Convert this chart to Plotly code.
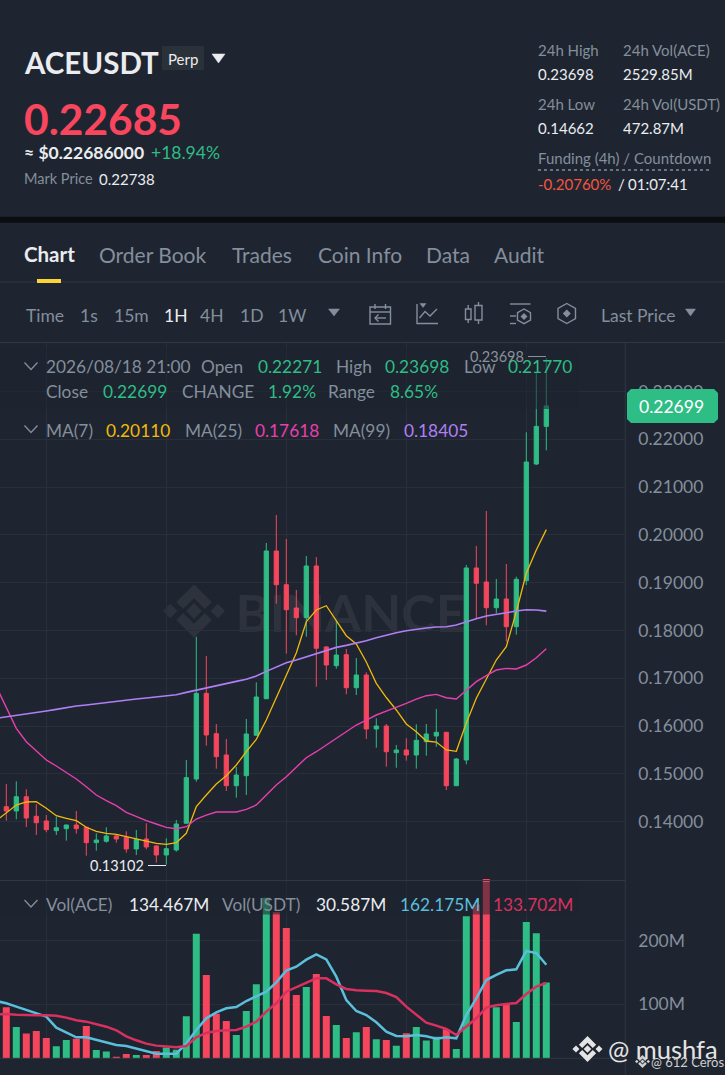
import plotly.graph_objects as go

W, H = 725, 1075

BG = "#1E2530"
GRID = "#292F39"
LINE = "#313743"
GRAY = "#848E9C"
WHITE = "#EAECEF"
GREEN = "#2EBD85"
RED = "#F6465D"
FONT = "Lato"

# one entry per hourly candle, left to right
opens = [.14314, .14224, .14523, .14113, .14015, .13812, .13854, .13931, .13883, .13561, .1359,
         .13701, .13674, .13429, .13638, .13492, .13303, .13408, .13967, .14893, .16686, .15841,
         .15395, .14753, .14962, .15808, .16573, .19663, .18958, .18471, .18268, .1935, .17655,
         .17264, .17494, .16803, .17069, .15939, .16002, .15444, .155, .15395, .15674, .15793,
         .1587, .14753, .15291, .19308, .19015, .18477, .18659, .1808, .19042, .21483, .22271]
highs = [.14789, .14845, .14678, .14364, .1414, .14105, .13937, .14224, .13895, .13757, .13883,
         .13722, .13799, .13826, .13967, .13513, .13653, .14036, .15291, .1787, .17467, .16044,
         .1573, .15144, .16149, .16916, .19831, .20416, .19914, .18847, .19559, .19538, .17676,
         .1822, .17613, .17425, .17126, .16163, .16044, .15605, .15745, .16038, .16044, .16358,
         .15877, .15333, .1937, .19768, .205, .19078, .19391, .19126, .22147, .23381, .23698]
lows = [.14021, .1405, .13889, .13722, .13778, .13722, .13603, .13749, .13289, .13393, .13561,
        .13561, .13351, .13303, .13423, .13142, .13102, .13372, .13967, .14837, .1559, .15109,
        .14642, .14502, .14559, .15808, .16573, .18561, .17515, .179, .1787, .16824, .16965,
        .17201, .16665, .16651, .1573, .15548, .15151, .1513, .15276, .15109, .15381, .15569,
        .14662, .14747, .15201, .18255, .18109, .1836, .17766, .17912, .18952, .21462, .2177]
closes = [.14224, .14523, .14077, .13979, .13833, .13874, .13931, .13854, .13561, .13617, .13701,
          .13638, .13429, .13632, .13471, .13303, .13435, .13952, .14921, .16686, .15814, .1536,
          .14753, .14977, .15835, .16609, .19663, .18958, .18435, .18268, .1935, .17628, .17278,
          .17487, .16803, .17069, .15939, .16002, .15464, .155, .15395, .15703, .15835, .1587,
          .14753, .15312, .19308, .18988, .18477, .18659, .1808, .19071, .21525, .22271, .22699]
volumes = [95.3, 64.5, 54, 58.1, 47.1, 34, 43.9, 46, 66, 28.3, 25.7, 17.8, 22, 20.4, 20.4, 26.7,
           32, 28.8, 81.2, 210.7, 146.1, 85.3, 73.8, 51.8, 89.5, 131.5, 267.5, 244.5, 220, 114.7,
           127.3, 147.6, 81.7, 67.5, 47.1, 56, 64.5, 45, 44, 35, 54.5, 64.5, 43, 49.2, 60.7, 29.8,
           238.2, 257, 300, 95.3, 101.6, 72.3, 229.5, 211.5, 134.467]

# the averages also have a value for the candle just off the left edge
ma7 = [.14021, .14176, .14349, .14412, .14418, .1428, .14126, .14071, .14021, .13883, .13799,
       .13757, .13736, .13686, .13638, .1359, .13548, .13527, .13561, .13757, .14314, .14559,
       .14789, .14962, .15186, .15464, .15724, .16128, .16588, .17069, .17529, .18184, .18429,
       .18519, .18205, .17891, .17718, .17341, .16895, .16598, .16337, .16044, .15883, .15688,
       .15667, .155, .15473, .16065, .16582, .17, .17383, .17661, .18393, .19197, .19684, .2011]
ma25 = [.16824, .16371, .15953, .15674, .15485, .1529, .15165, .15032, .14893, .14732, .14558,
        .14439, .14335, .14195, .14105, .14021, .13951, .13881, .13854, .13895, .14056, .14139,
        .14202, .14202, .14202, .14258, .14349, .14558, .14767, .14941, .15137, .15339, .15464,
        .15604, .15743, .15883, .16022, .16127, .16232, .16315, .16392, .16476, .16566, .16636,
        .16664, .16594, .16566, .16755, .16929, .17054, .17173, .17208, .17194, .17278, .17431,
        .17618]
ma99 = [.16162, .1619, .16225, .16259, .16287, .16315, .1635, .16392, .1642, .16441, .16469,
        .16497, .16517, .16545, .16566, .16587, .16608, .16629, .16657, .16706, .16755, .16803,
        .16852, .16894, .16936, .16978, .17047, .17145, .17236, .17326, .17382, .17452, .17522,
        .17577, .17647, .17689, .17731, .17787, .17849, .17905, .17954, .17996, .18031, .18052,
        .18073, .18079, .18114, .18184, .18247, .18303, .18344, .18372, .18407, .18435, .18428,
        .18405]
vol_ma_fast = [105.2, 101.6, 96.3, 91.1, 86.9, 80.6, 63.4, 55.5, 48.2, 48.2, 44, 39.8, 36.1, 34.6,
               30.9, 27.2, 22.5, 22.5, 22.5, 38.7, 59.7, 78, 87.4, 93.7, 95.8, 105.2, 112, 119.9,
               134.6, 152.9, 159.2, 170.2, 178.5, 170.7, 143.5, 106.8, 89.5, 83.2, 71.7, 57.1, 50.3,
               49.7, 51.8, 49.7, 46.1, 48.2, 46.6, 83.2, 109.4, 138.2, 146.1, 153.4, 155, 183.8,
               180.6, 162.175]
vol_ma_slow = [84.3, 84.8, 83.8, 82.7, 82.7, 82.7, 82.2, 79.1, 74.9, 72.8, 69.1, 64.9, 59.2, 49.7,
               43.5, 38.2, 35.1, 33.5, 32.5, 34.6, 48.2, 55, 58.1, 59.2, 59.7, 64.9, 72.8, 88.5,
               101.6, 119.9, 127.2, 134, 140.8, 140.8, 131.4, 124.1, 122, 121.5, 120.9, 117.8, 111.5,
               96.3, 83.2, 71.2, 66.5, 61.3, 51.8, 64.9, 78, 94.8, 98.4, 100.5, 102.1, 116.2, 127.7,
               133.702]

price_ticks = [.14, .15, .16, .17, .18, .19, .20, .21, .22, .23]
volume_ticks = [100, 200]
volume_labels = ["100M", "200M"]
time_grid = [4, 16, 28, 40, 52]

candle_x = list(range(len(closes)))
ma_x = list(range(-1, len(closes)))


def px(x):
    return x / W


def py(y):
    return 1 - y / H


def label(x, y, text, color=GRAY, size=17.3, bold=False, family=FONT):
    return dict(x=px(x), y=py(y), xref="paper", yref="paper", text=f"<b>{text}</b>" if bold else text,
                showarrow=False, xanchor="left", yanchor="middle", align="left", borderpad=0, borderwidth=0,
                font=dict(family=family, size=size, color=color))


def rect(x0, y0, x1, y1, fill, opacity=1, layer="above"):
    return dict(type="rect", xref="paper", yref="paper", x0=px(x0), x1=px(x1), y0=py(y0), y1=py(y1),
                fillcolor=fill, opacity=opacity, line_width=0, layer=layer)


def hline(x0, x1, y, color=LINE, width=1, dash="solid"):
    return dict(type="line", xref="paper", yref="paper", x0=px(x0), x1=px(x1), y0=py(y), y1=py(y),
                line=dict(color=color, width=width, dash=dash), layer="above")


def poly(points, color=GRAY, width=1.4, closed=False, fill=None, layer="above"):
    path = "M " + " L ".join(f"{px(a):.5f},{py(b):.5f}" for a, b in points) + (" Z" if closed else "")
    return dict(type="path", xref="paper", yref="paper", path=path, layer=layer,
                line=dict(color=color, width=width), fillcolor=fill if fill else "rgba(0,0,0,0)")


def triangle(cx, cy, w, h, color):
    return poly([(cx - w / 2, cy - h / 2), (cx + w / 2, cy - h / 2), (cx, cy + h / 2)], color, 0.5, True, color)


def chevron(cx, cy):
    return poly([(cx - 6.5, cy - 3.5), (cx, cy + 3.5), (cx + 6.5, cy - 3.5)], GRAY, 1.3)


def binance_logo(cx, cy, r, color, layer="above"):
    # centre, left and right diamonds with a chevron above and below
    out = []
    for dx, dy, s in [(0, 0, .24), (-.72, 0, .22), (.72, 0, .22)]:
        a, b, q = cx + dx * r, cy + dy * r, s * r
        out.append(poly([(a, b - q), (a + q, b), (a, b + q), (a - q, b)], color, 0, True, color, layer))
    for sign in (-1, 1):
        out.append(poly([(cx - .54 * r, cy + sign * .27 * r), (cx, cy + sign * .81 * r),
                         (cx + .54 * r, cy + sign * .27 * r), (cx + .33 * r, cy + sign * .06 * r),
                         (cx, cy + sign * .39 * r), (cx - .33 * r, cy + sign * .06 * r)],
                        color, 0, True, color, layer))
    return out


fig = go.Figure()

fig.add_trace(go.Candlestick(
    x=candle_x, open=opens, high=highs, low=lows, close=closes, whiskerwidth=0,
    increasing=dict(line=dict(color=GREEN, width=1), fillcolor=GREEN),
    decreasing=dict(line=dict(color=RED, width=1), fillcolor=RED),
    xaxis="x", yaxis="y", hoverinfo="skip"))
for values, color, lw in [(ma7, "#F0B90B", 1.3), (ma25, "#E83FAE", 1.4), (ma99, "#B17FF5", 1.6)]:
    fig.add_trace(go.Scatter(x=ma_x, y=values, mode="lines", line=dict(color=color, width=lw),
                             xaxis="x", yaxis="y", hoverinfo="skip"))

bar_colors = [GREEN if c >= o else RED for o, c in zip(opens, closes)]
fig.add_trace(go.Bar(x=candle_x, y=volumes, marker=dict(color=bar_colors, line_width=0),
                     xaxis="x2", yaxis="y2", hoverinfo="skip"))
for values, color in [(vol_ma_fast, "#5BBFDC"), (vol_ma_slow, "#D8305F")]:
    fig.add_trace(go.Scatter(x=ma_x, y=values, mode="lines", line=dict(color=color, width=2.5),
                             xaxis="x2", yaxis="y2", hoverinfo="skip"))

shapes = [
    rect(0, 216.7, W, 222.7, "#0B0E11"),
    hline(0, W, 282),
    rect(37, 279, 61, 283, "#FCD535"),
    hline(0, W, 342.5),
    hline(0, 625.3, 880.5),
    hline(0, 625.3, 1058.3),
    dict(type="line", xref="paper", yref="paper", x0=px(625.3), x1=px(625.3), y0=py(343), y1=0,
         line=dict(color=LINE, width=1), layer="above"),
    # the legend rows sit on a half transparent strip over the candles
    rect(0, 347, 578, 409, BG, .55),
    rect(0, 882, 578, 914.5, BG, .55),
    dict(type="rect", xref="paper", yref="paper", x0=px(162), x1=px(204), y0=py(46), y1=py(70),
         fillcolor="#2B3139", line_width=0, layer="above"),
    triangle(218.5, 58.5, 13, 9, WHITE),
    hline(538, 711, 170, "#848E9C", 1.4, "dot"),
    triangle(334, 312.5, 11, 7, GRAY),
    triangle(690.5, 312.5, 10, 7, GRAY),
    chevron(31, 366), chevron(31, 429), chevron(31, 903.5),
    hline(528, 546, 356.5, "#8B919B", 1),
    hline(148, 166, 865.5, WHITE, 1),
    # price tag on the axis
    dict(type="path", xref="paper", yref="paper", layer="above", fillcolor=GREEN, line_width=0,
         path="M {a},{t} L {b},{t} L {c},{u} L {c},{v} L {b},{w} L {a},{w} L {d},{v} L {d},{u} Z".format(
             a=px(631), b=px(714), c=px(718), d=px(627), t=py(389), u=py(393), v=py(419), w=py(423))),
    # toolbar icons
    poly([(370, 307), (390.5, 307), (390.5, 324), (370, 324)], closed=True),
    hline(370, 390.5, 312, GRAY, 1.4),
    poly([(375, 304), (375, 309)]), poly([(385.5, 304), (385.5, 309)]),
    poly([(386, 318), (375, 318)]), poly([(378.5, 314.5), (375, 318), (378.5, 321.5)]),
    poly([(417, 304), (417, 323.5), (438, 323.5)]),
    poly([(419.5, 318), (425, 311.5), (430, 316), (437, 309)]),
    triangle(423, 305.5, 6, 4, GRAY),
    poly([(465.5, 309), (471, 309), (471, 319.5), (465.5, 319.5)], closed=True),
    poly([(468.2, 305), (468.2, 309)]), poly([(468.2, 319.5), (468.2, 323)]),
    poly([(475, 305.5), (482, 305.5), (482, 320), (475, 320)], closed=True),
    poly([(478.5, 302), (478.5, 305.5)]), poly([(478.5, 320), (478.5, 324)]),
    hline(510, 530.5, 304, GRAY, 1.4), hline(510, 516, 316, GRAY, 1.4), hline(510, 516, 323.5, GRAY, 1.4),
    poly([(524, 309), (530.5, 312.7), (530.5, 320), (524, 323.7), (517.5, 320), (517.5, 312.7)], closed=True),
    poly([(524, 314), (526.5, 316.5), (524, 319), (521.5, 316.5)], closed=True, fill=GRAY),
    poly([(566.8, 303.5), (575.5, 308.5), (575.5, 318.5), (566.8, 323.5), (558, 318.5), (558, 308.5)], closed=True),
    poly([(566.8, 310.5), (569.8, 313.5), (566.8, 316.5), (563.8, 313.5)], closed=True, fill=GRAY),
    # BINANCE watermark behind the candles
    dict(type="rect", xref="paper", yref="paper", x0=px(230), x1=px(471), y0=py(590), y1=py(632),
         fillcolor="rgba(0,0,0,0)", line_width=0, layer="below",
         label=dict(text="<b>BINANCE</b>", textposition="middle center",
                    font=dict(family=FONT, size=52, color="#2D323C"))),
]
shapes += binance_logo(194, 611, 33, "#2D323C", "below")
shapes += binance_logo(587.5, 1049, 16, "#E4E4E4")
shapes += binance_logo(642.5, 1061.5, 8, "#CFCFCF")

annotations = [
    label(23.5, 62, "ACEUSDT", WHITE, 29.5, True),
    label(168, 59, "Perp", WHITE, 15),
    label(23.5, 118, "0.22685", "#F9465F", 42.5, True),
    label(24, 153, "≈ $0.22686000", WHITE, 17.5, True),
    label(151, 153, "+18.94%", GREEN, 17.5),
    label(24, 179, "Mark Price", GRAY, 14.5),
    label(99, 179, "0.22738", WHITE, 15),
    label(538, 50, "24h High", GRAY, 15),
    label(622.5, 50, "24h Vol(ACE)", GRAY, 15),
    label(538, 74, "0.23698", WHITE, 15),
    label(622.5, 74, "2529.85M", WHITE, 15),
    label(538, 104, "24h Low", GRAY, 15),
    label(622.5, 104, "24h Vol(USDT)", GRAY, 15),
    label(538, 128, "0.14662", WHITE, 15),
    label(622.5, 128, "472.87M", WHITE, 15),
    label(538, 158, "Funding (4h) / Countdown", GRAY, 15),
    label(538, 184, "-0.20760%", "#F6543D", 15),
    label(618, 184, "/", WHITE, 15),
    label(628, 184, "01:07:41", WHITE, 15),
    label(24, 254.5, "Chart", WHITE, 20.5, True),
    label(99, 254.5, "Order Book", GRAY, 21),
    label(232, 254.5, "Trades", GRAY, 21),
    label(318, 254.5, "Coin Info", GRAY, 21),
    label(426, 254.5, "Data", GRAY, 21),
    label(494, 254.5, "Audit", GRAY, 21),
    label(26, 315, "Time", GRAY, 17.5),
    label(80, 315, "1s", GRAY, 17.5),
    label(114, 315, "15m", GRAY, 17.5),
    label(164, 315, "1H", WHITE, 17.5),
    label(200, 315, "4H", GRAY, 17.5),
    label(240, 315, "1D", GRAY, 17.5),
    label(278, 315, "1W", GRAY, 17.5),
    label(601, 315, "Last Price", GRAY, 17.5),
    label(46, 367, "2026/08/18 21:00"),
    label(201, 367, "Open"),
    label(258, 367, "0.22271", GREEN),
    label(336, 367, "High"),
    label(385, 367, "0.23698", GREEN),
    label(464, 367, "Low"),
    label(508, 367, "0.21770", GREEN),
    label(46, 391, "Close"),
    label(103, 391, "0.22699", GREEN),
    label(182, 391, "CHANGE"),
    label(268, 391, "1.92%", GREEN),
    label(328, 391, "Range"),
    label(390, 391, "8.65%", GREEN),
    label(46, 430, "MA(7)"),
    label(106, 430, "0.20110", "#F0B90B"),
    label(185, 430, "MA(25)"),
    label(255, 430, "0.17618", "#E83FAE"),
    label(333, 430, "MA(99)"),
    label(403.5, 430, "0.18405", "#B17FF5"),
    label(469.5, 356, "0.23698", "#8B919B", 14.5),
    label(89.5, 865, "0.13102", WHITE, 14.5),
    label(46, 904, "Vol(ACE)"),
    label(129, 904, "134.467M", WHITE),
    label(222, 904, "Vol(USDT)"),
    label(316, 904, "30.587M", WHITE),
    label(400, 904, "162.175M", "#5BBFDC"),
    label(493, 904, "133.702M", "#D8305F"),
    label(639, 406, "0.22699", "#FFFFFF", 17.5),
    label(607.5, 1049, "@ mushfa", "#E4E4E4", 25.5),
    label(651, 1062, "@ 612 Ceros", "#CFCFCF", 13),
]

x_common = dict(domain=[0, 625.3 / W], range=[-0.63, 61.9], showgrid=True, gridcolor=GRID, gridwidth=1,
                tickmode="array", tickvals=time_grid, showticklabels=False, ticks="", zeroline=False,
                showline=False, rangeslider=dict(visible=False), fixedrange=True)
y_common = dict(side="right", showgrid=True, gridcolor=GRID, gridwidth=1, zeroline=False, showline=False,
                ticks="outside", ticklen=8.5, tickcolor="rgba(0,0,0,0)", fixedrange=True,
                tickfont=dict(family=FONT, size=17.5, color=GRAY))

fig.update_layout(
    width=W, height=H, autosize=False,
    margin=dict(l=0, r=0, t=0, b=0),
    paper_bgcolor=BG, plot_bgcolor="rgba(0,0,0,0)",
    showlegend=False, bargap=0.3, boxgap=0.4,
    font=dict(family=FONT),
    xaxis=dict(anchor="y", **x_common),
    xaxis2=dict(anchor="y2", **x_common),
    yaxis=dict(anchor="x", domain=[py(880), py(343)], range=[.1278, .24015], tickmode="array",
               tickvals=price_ticks, ticktext=[f"{v:.5f}" for v in price_ticks], **y_common),
    yaxis2=dict(anchor="x2", domain=[py(1058.3), py(879)], range=[15.2, 296.9], tickmode="array",
                tickvals=volume_ticks, ticktext=volume_labels, **y_common),
    shapes=shapes,
    annotations=annotations,
)

fig.write_html("out.html", config={"displayModeBar": False},
               post_script="document.body.style.margin='0';document.body.style.background='%s';" % BG)
